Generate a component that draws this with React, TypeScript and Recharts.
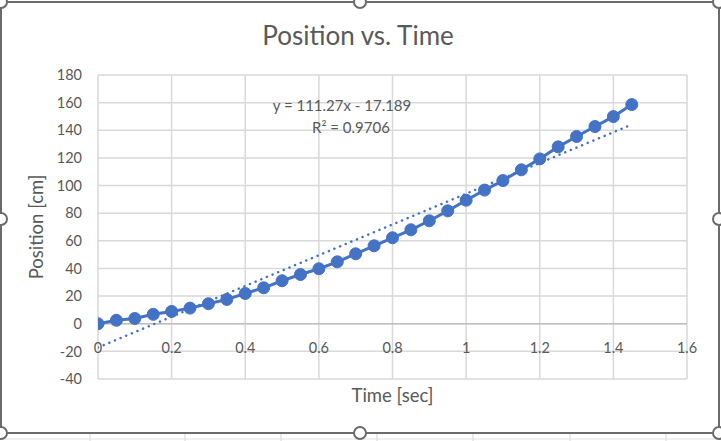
import { LineChart, Line, XAxis, YAxis, CartesianGrid, ReferenceLine, Label } from 'recharts'

const times = [0, 0.05, 0.1, 0.15, 0.2, 0.25, 0.3, 0.35, 0.4, 0.45, 0.5, 0.55, 0.6, 0.65, 0.7, 0.75, 0.8, 0.85, 0.9, 0.95, 1.0, 1.05, 1.1, 1.15, 1.2, 1.25, 1.3, 1.35, 1.4, 1.45]
const positions = [0, 2.5, 3.8, 6.8, 8.9, 11.3, 14.5, 17.6, 21.9, 26, 31.1, 35.6, 39.8, 44.8, 50.6, 56.4, 62.2, 68, 74.5, 81.7, 89.4, 96.7, 103.6, 111.4, 119.3, 128, 135.5, 142.7, 149.9, 158.6]
// trendline end points (y = 111.27x - 17.189)
const trendTimes = [0, 1.45]
const trendValues = [-17.19, 144.15]
const xTicks = [0, 0.2, 0.4, 0.6, 0.8, 1, 1.2, 1.4, 1.6]
const yTicks = [-40, -20, 0, 20, 40, 60, 80, 100, 120, 140, 160, 180]
const cellLines = [90, 185, 281, 377, 473, 570, 666]

const data = times.map((t, i) => ({ t, pos: positions[i] }))
const trendData = trendTimes.map((t, i) => ({ t, pos: trendValues[i] }))

const W = 721
const H = 441
const margin = { top: 75, right: 34, bottom: 32, left: 42 }
const plotH = H - margin.top - margin.bottom - 30
const zeroY = margin.top + (plotH * 180) / 220

const blue = '#4472C4'
const text = '#595959'
const font = 'Lato, "Open Sans", sans-serif'

const XTick = (props: any) => {
  const { x, payload } = props
  return (
    <text x={x} y={zeroY + 24} textAnchor="middle" dominantBaseline="central" fill={text} fontSize={14.5} fontFamily={font}>
      {payload.value}
    </text>
  )
}

const handles = [
  [1, 2], [360, 2], [719, 2],
  [1, 219], [719, 219],
  [1, 433], [360, 433], [719, 433],
]

export default function App() {
  return (
    <div style={{ position: 'relative', width: W, height: H, background: '#fff', overflow: 'hidden' }}>
      <style>{'body{margin:0}'}</style>
      <svg width={W} height={H} style={{ position: 'absolute', left: 0, top: 0 }}>
        {cellLines.map((x) => (
          <line key={x} x1={x} x2={x} y1={434} y2={441} stroke="#d4d4d4" strokeWidth={1} />
        ))}
        <line x1={0} x2={W} y1={439} y2={439} stroke="#e0e0e0" strokeWidth={1} />
      </svg>
      <div style={{ position: 'absolute', left: 0, top: 0 }}>
        <LineChart width={W} height={H} margin={margin}>
          <text x={358} y={35} textAnchor="middle" dominantBaseline="central" fill={text} fontSize={26} fontFamily={font}>
            Position vs. Time
          </text>
          <CartesianGrid stroke="#d9d9d9" strokeWidth={1.5} />
          <XAxis
            dataKey="t"
            type="number"
            domain={[0, 1.6]}
            ticks={xTicks}
            allowDataOverflow
            axisLine={false}
            tickLine={false}
            tick={<XTick />}
            height={30}
          >
            <Label value="Time [sec]" position="insideBottom" offset={7} fill={text} fontSize={18.5} fontFamily={font} />
          </XAxis>
          <YAxis
            type="number"
            domain={[-40, 180]}
            ticks={yTicks}
            allowDataOverflow
            axisLine={false}
            tickLine={false}
            tickSize={0}
            tickMargin={16}
            width={56}
            tick={{ fill: text, fontSize: 14.5, fontFamily: font }}
          >
            <Label value="Position [cm]" angle={-90} position="insideLeft" offset={-6} fill={text} fontSize={18.5} fontFamily={font} style={{ textAnchor: 'middle' }} />
          </YAxis>
          <ReferenceLine y={0} stroke="#bfbfbf" strokeWidth={1.5} />
          <Line
            data={trendData}
            dataKey="pos"
            stroke={blue}
            strokeWidth={2.5}
            strokeDasharray="0.1 6"
            strokeLinecap="round"
            dot={false}
            activeDot={false}
            isAnimationActive={false}
          />
          <Line
            data={data}
            dataKey="pos"
            stroke={blue}
            strokeWidth={3}
            dot={{ r: 6, fill: blue, stroke: blue, strokeWidth: 1 }}
            activeDot={false}
            isAnimationActive={false}
          />
          <text x={342} y={105} textAnchor="middle" dominantBaseline="central" fill={text} fontSize={15} fontFamily={font}>
            y = 111.27x - 17.189
          </text>
          <text x={351} y={127} textAnchor="middle" dominantBaseline="central" fill={text} fontSize={15} fontFamily={font}>
            R² = 0.9706
          </text>
        </LineChart>
      </div>
      <svg width={W} height={H} style={{ position: 'absolute', left: 0, top: 0, pointerEvents: 'none' }}>
        <rect x={1} y={2} width={718} height={431} fill="none" stroke="#6b6b6b" strokeWidth={2} />
        {handles.map(([x, y], i) => (
          <circle key={i} cx={x} cy={y} r={6} fill="#fff" stroke="#6b6b6b" strokeWidth={2} />
        ))}
      </svg>
    </div>
  )
}
